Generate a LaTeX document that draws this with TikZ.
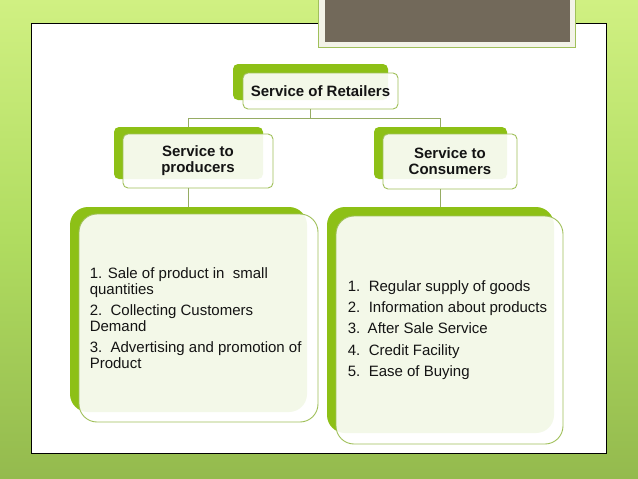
\documentclass[tikz,border=0pt]{standalone}
\usepackage{fontspec}
\setmainfont{Liberation Sans}
\definecolor{bgtop}{RGB}{208,240,130}
\definecolor{bgmid}{RGB}{176,220,96}
\definecolor{bgbot}{RGB}{148,186,78}
\definecolor{leafgreen}{RGB}{141,192,22}
\definecolor{edgegreen}{RGB}{160,192,90}
\definecolor{linegreen}{RGB}{150,172,100}
\definecolor{slate}{RGB}{114,105,90}
\definecolor{framecream}{RGB}{243,243,232}
\definecolor{inktext}{RGB}{20,20,20}
\begin{document}
\begin{tikzpicture}[x=1pt,y=-1pt,
  every node/.style={font=\fontsize{15}{16}\selectfont, text=inktext},
  backsmall/.style={rectangle, rounded corners=5pt, fill=leafgreen, inner sep=0pt},
  frontsmall/.style={rectangle, rounded corners=5pt, fill=white, fill opacity=0.9, text opacity=1, draw=edgegreen, line width=0.9pt, inner sep=0pt, align=center},
  backbig/.style={rectangle, rounded corners=18pt, fill=leafgreen, inner sep=0pt},
  frontbig/.style={rectangle, rounded corners=18pt, fill=white, fill opacity=0.9, draw=edgegreen, line width=0.9pt, inner sep=0pt},
  conn/.style={draw=linegreen, line width=0.8pt}]
\useasboundingbox (0,0) rectangle (638,479);
% background
\shade[top color=bgtop, bottom color=bgbot, middle color=bgmid] (0,0) rectangle (638,479);
% white panel
\draw[line width=1.2pt, fill=white] (31.5,23.5) rectangle (606.5,453.5);
% top grey block
\draw[draw=edgegreen, fill=framecream, line width=0.9pt] (318,-2) rectangle (575,47);
\fill[slate] (325,-2) rectangle (570,42);

% back boxes
\node[backsmall, minimum width=155pt, minimum height=36pt] (rootbk) at (310.5,82) {};
\node[backsmall, minimum width=149pt, minimum height=52pt] (prodbk) at (188.5,153) {};
\node[backsmall, minimum width=133pt, minimum height=52pt] (consbk) at (440.5,153) {};
\node[backbig, minimum width=237pt, minimum height=205pt] (leftbk) at (188.5,309.5) {};
\node[backbig, minimum width=227pt, minimum height=226pt] (rightbk) at (440.5,320) {};

% front boxes
\node[frontsmall, minimum width=155pt, minimum height=36pt] (root) at (320.5,91) {};
\node[frontsmall, minimum width=150pt, minimum height=54pt] (prod) at (198,161) {};
\node[frontsmall, minimum width=134pt, minimum height=55pt] (cons) at (450,161.5) {};
\node[frontbig, minimum width=239pt, minimum height=208pt] (left) at (198.5,318) {};
\node[frontbig, minimum width=227pt, minimum height=228pt] (right) at (449.5,330) {};

% texts
\node[align=center] (roott) at (root.center) {\bfseries Service of Retailers};
\node[align=center] (prodt) at (prod.center) {\bfseries Service to\\\bfseries producers};
\node[align=center] (const) at (cons.center) {\bfseries Service to\\\bfseries Consumers};
\node[anchor=west, align=left, inner sep=0pt] (leftt) at ([xshift=11pt]left.west)
  {1. Sale of product in\ \ small\\quantities\\[5pt]2.\ \ Collecting Customers\\Demand\\[5pt]3.\ \ Advertising and promotion of\\Product};
\node[anchor=west, align=left, inner sep=0pt] (rightt) at ([xshift=12pt]right.west)
  {\makebox[21pt][l]{1.}Regular supply of goods\\[5.3pt]\makebox[21pt][l]{2.}Information about products\\[5.3pt]\makebox[20pt][l]{3.}After Sale Service\\[5.3pt]\makebox[21pt][l]{4.}Credit Facility\\[5.3pt]\makebox[21pt][l]{5.}Ease of Buying};

% connectors
\coordinate (bus) at (0,118);
\draw[conn] (rootbk.center |- root.south) -- (rootbk.center |- bus);
\draw[conn] (prodbk.center |- bus) -- (consbk.center |- bus);
\draw[conn] (prodbk.center |- bus) -- (prodbk.north);
\draw[conn] (consbk.center |- bus) -- (consbk.north);
\draw[conn] (prodbk.center |- prod.south) -- (prodbk.center |- leftbk.north);
\draw[conn] (consbk.center |- cons.south) -- (consbk.center |- rightbk.north);
\end{tikzpicture}
\end{document}
